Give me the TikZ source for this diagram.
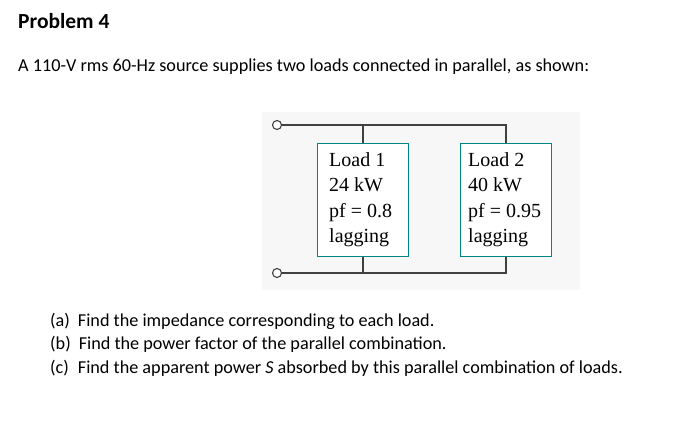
\documentclass[tikz,border=0pt]{standalone}
\usepackage{fontspec}
\setmainfont{Carlito}
\newfontfamily\serif{Liberation Serif}
\begin{document}
\begin{tikzpicture}[x=1pt,y=-1pt,
  wire/.style={line width=1.2pt,black!75},
  load/.style={draw=teal!70!cyan!80!black,line width=1.2pt,fill=white,minimum width=91pt,minimum height=113pt,anchor=north west,inner sep=0pt},
  ltxt/.style={align=left,font=\serif\fontsize{20}{25.5}\selectfont,anchor=north west,inner sep=0pt},
  term/.style={circle,draw=black!75,line width=1.1pt,fill=white,minimum size=9pt,inner sep=0pt},
  txt/.style={anchor=base west,inner sep=0pt,font=\fontsize{18.2}{20}\selectfont}]
\useasboundingbox (0,0) rectangle (692,438);
\fill[black!3] (262,112) rectangle (580,290);
\node[txt,font=\bfseries\fontsize{21.5}{24}\selectfont] (title) at (18,29) {Problem 4};
\node[txt] (intro) at (18,72) {A 110-V rms 60-Hz source supplies two loads connected in parallel, as shown:};
\node[term] (t1) at (277,125) {};
\node[term] (t2) at (277,273) {};
\coordinate (j1) at (363,125); \coordinate (r1) at (506,125);
\coordinate (j2) at (363,273); \coordinate (r2) at (506,273);
\node[load] (L1) at (317,143) {};
\node[load] (L2) at (460,143) {};
\node[ltxt] (l1t) at (329,152) {Load 1\\24 kW\\pf = 0.8\\lagging};
\node[ltxt] (l2t) at (468,152) {Load 2\\40 kW\\pf = 0.95\\lagging};
\draw[wire] (t1) -- (r1) -- (L2.north -| r1);
\draw[wire] (j1) -- (L1.north -| j1);
\draw[wire] (t2) -- (r2) -- (L2.south -| r2);
\draw[wire] (j2) -- (L1.south -| j2);
\node[txt] (qa) at (50,326) {(a)\hspace{8pt}Find the impedance corresponding to each load.};
\node[txt] (qb) at (50,349) {(b)\hspace{8pt}Find the power factor of the parallel combination.};
\node[txt] (qc) at (50,373) {(c)\hspace{9pt}Find the apparent power \textit{S} absorbed by this parallel combination of loads.};
\end{tikzpicture}
\end{document}
